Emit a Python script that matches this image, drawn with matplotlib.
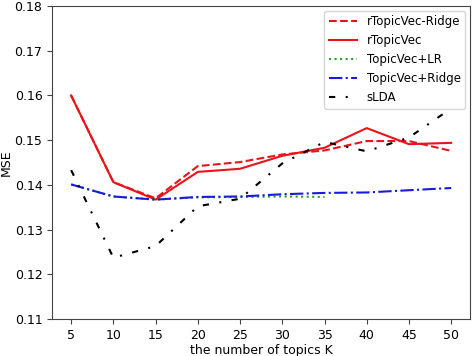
import matplotlib
matplotlib.use("Agg")
import matplotlib.pyplot as plt

K = [5, 10, 15, 20, 25, 30, 35, 40, 45, 50]
K_lr = [5, 10, 15, 20, 25, 30, 35]
rtv_ridge = [0.1600, 0.1406, 0.1370, 0.1442, 0.1451, 0.1468, 0.1477, 0.1498, 0.1498, 0.1476]
rtv = [0.1600, 0.1406, 0.1367, 0.1429, 0.1436, 0.1465, 0.1483, 0.1527, 0.1491, 0.1494]
tv_lr = [0.1401, 0.1374, 0.1367, 0.1372, 0.1373, 0.1374, 0.1373]
tv_ridge = [0.1401, 0.1374, 0.1367, 0.1373, 0.1374, 0.1379, 0.1382, 0.1383, 0.1388, 0.1393]
slda = [0.1433, 0.1237, 0.1263, 0.1352, 0.1369, 0.1448, 0.1496, 0.1475, 0.1506, 0.1571]

fig = plt.figure(figsize=(4.74, 3.56), dpi=100)
ax = fig.add_axes([0.11, 0.104, 0.882, 0.879])
ax.plot(K, rtv_ridge, color='#e8141c', ls='--', lw=1.5, label='rTopicVec-Ridge')
ax.plot(K, rtv, color='#e8141c', ls='-', lw=1.5, label='rTopicVec')
ax.plot(K_lr, tv_lr, color='#2ca02c', ls=':', lw=1.5, label='TopicVec+LR')
ax.plot(K, tv_ridge, color='#1a1adf', ls='-.', lw=1.5, label='TopicVec+Ridge')
ax.plot(K, slda, color='black', ls=(0, (3, 5, 1, 5)), lw=1.5, label='sLDA')

ax.set_ylim(0.11, 0.18)
ax.set_yticks([0.11, 0.12, 0.13, 0.14, 0.15, 0.16, 0.17, 0.18])
ax.set_xticks(K)
ax.set_xlabel('the number of topics K', fontsize=9, labelpad=2)
ax.set_ylabel('MSE', fontsize=9, labelpad=1)
ax.tick_params(labelsize=9, color='#444444')
for s in ax.spines.values():
    s.set_color('#444444')
ax.legend(loc='upper right', fontsize=8.5, frameon=True, handlelength=2.4,
          borderaxespad=0.4)
fig.savefig('out.png', dpi=100)
